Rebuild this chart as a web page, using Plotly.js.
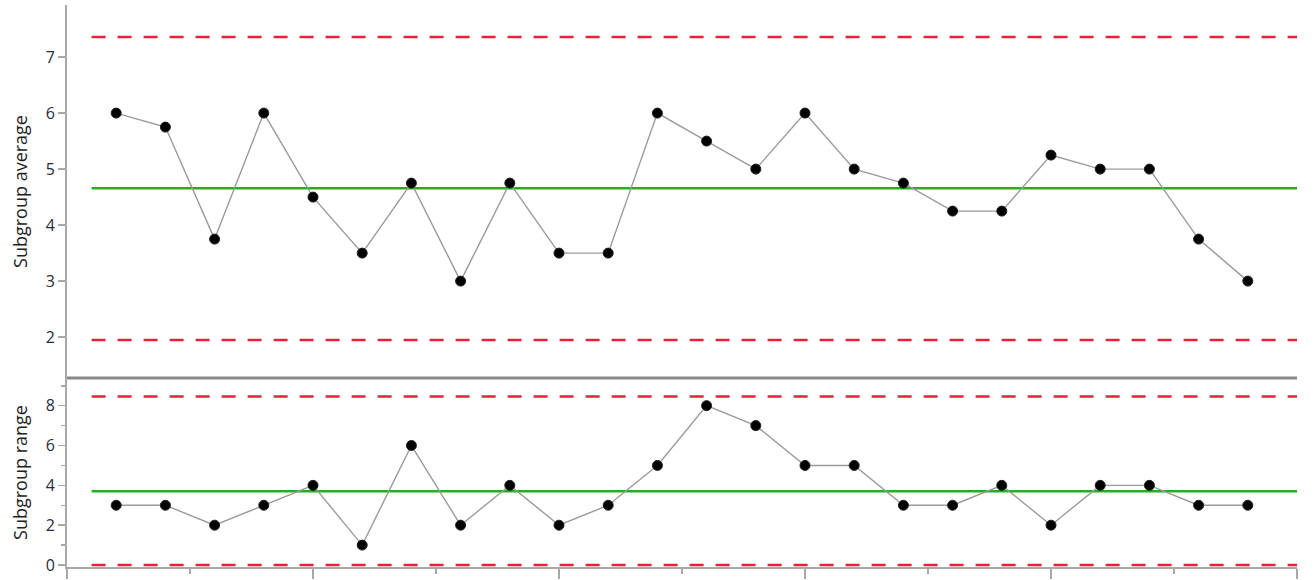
<!DOCTYPE html>
<html>
<head>
<meta charset="utf-8">
<script src="https://cdn.plot.ly/plotly-3.0.1.min.js"></script>
<style>html,body{margin:0;padding:0;background:#fff;}#chart{width:1315px;height:580px;}</style>
</head>
<body>
<div id="chart"></div>
<script>
const subgroups = [1,2,3,4,5,6,7,8,9,10,11,12,13,14,15,16,17,18,19,20,21,22,23,24];
const subgroupAverage = [6,5.75,3.75,6,4.5,3.5,4.75,3,4.75,3.5,3.5,6,5.5,5,6,5,4.75,4.25,4.25,5.25,5,5,3.75,3];
const subgroupRange = [3,3,2,3,4,1,6,2,4,2,3,5,8,7,5,5,3,3,4,2,4,4,3,3];
const avgLimits = {ucl: 7.36, center: 4.656, lcl: 1.95};
const rangeLimits = {ucl: 8.46, center: 3.708, lcl: 0};
const limitSpan = [0.5, 25];

const split = 0.3363;
const ptStyle = {
  mode: 'lines+markers',
  line: {color: '#9a9a9a', width: 1.4},
  marker: {color: '#000', size: 10, line: {color: '#222', width: 1}},
  hoverinfo: 'x+y'
};
const traces = [
  Object.assign({x: subgroups, y: subgroupAverage, xaxis: 'x', yaxis: 'y2'}, ptStyle),
  Object.assign({x: subgroups, y: subgroupRange, xaxis: 'x', yaxis: 'y'}, ptStyle)
];

function hline(yref, val, kind) {
  const red = {color: '#e8203a', width: 2.5, dash: '14px,12px'};
  const green = {color: '#1db31d', width: 2.5};
  return {type: 'line', xref: 'x', yref: yref, x0: limitSpan[0], x1: limitSpan[1], y0: val, y1: val,
          line: kind === 'limit' ? red : green, layer: 'below'};
}
const shapes = [
  hline('y2', avgLimits.ucl, 'limit'), hline('y2', avgLimits.center, 'center'), hline('y2', avgLimits.lcl, 'limit'),
  hline('y', rangeLimits.ucl, 'limit'), hline('y', rangeLimits.center, 'center'), hline('y', rangeLimits.lcl, 'limit'),
  {type: 'line', xref: 'paper', yref: 'paper', x0: 0, x1: 1, y0: split, y1: split, line: {color: '#8a8a8a', width: 3}}
];

const tickFont = {family: 'Open Sans, Noto Sans, sans-serif', size: 16, color: '#2a2a3a'};
const titleFont = {family: 'Open Sans, Noto Sans, sans-serif', size: 18, color: '#222'};

const layout = {
  width: 1315, height: 580,
  margin: {l: 67, r: 18, t: 5, b: 13},
  paper_bgcolor: '#fff', plot_bgcolor: '#fff',
  showlegend: false,
  shapes: shapes,
  xaxis: {
    range: [0, 25], showgrid: false, zeroline: false,
    showline: true, linecolor: '#a8a8a8', linewidth: 2,
    ticks: 'outside', ticklen: 10, tickwidth: 1.5, tickcolor: '#a8a8a8',
    tick0: 0, dtick: 5, showticklabels: false,
    minor: {ticks: 'outside', dtick: 2.5, ticklen: 5, tickcolor: '#a8a8a8', tickwidth: 1.5, showgrid: false},
    anchor: 'y'
  },
  yaxis: {
    domain: [0, split], range: [-0.1, 9.39], showgrid: false, zeroline: false,
    showline: true, linecolor: '#a8a8a8', linewidth: 2,
    ticks: 'outside', ticklen: 7, tickwidth: 1.5, tickcolor: '#a8a8a8',
    tick0: 0, dtick: 2, tickfont: tickFont,
    minor: {ticks: 'outside', dtick: 1, ticklen: 4, tickcolor: '#a8a8a8', tickwidth: 1.5, showgrid: false},
    title: {text: 'Subgroup range', font: titleFont, standoff: 13}
  },
  yaxis2: {
    domain: [split, 1], range: [1.27, 7.93], showgrid: false, zeroline: false,
    showline: true, linecolor: '#a8a8a8', linewidth: 2,
    ticks: 'outside', ticklen: 7, tickwidth: 1.5, tickcolor: '#a8a8a8',
    tick0: 0, dtick: 1, tickfont: tickFont,
    title: {text: 'Subgroup average', font: titleFont, standoff: 13},
    anchor: 'x'
  }
};

Plotly.newPlot('chart', traces, layout, {displayModeBar: false, staticPlot: true});
</script>
</body>
</html>
